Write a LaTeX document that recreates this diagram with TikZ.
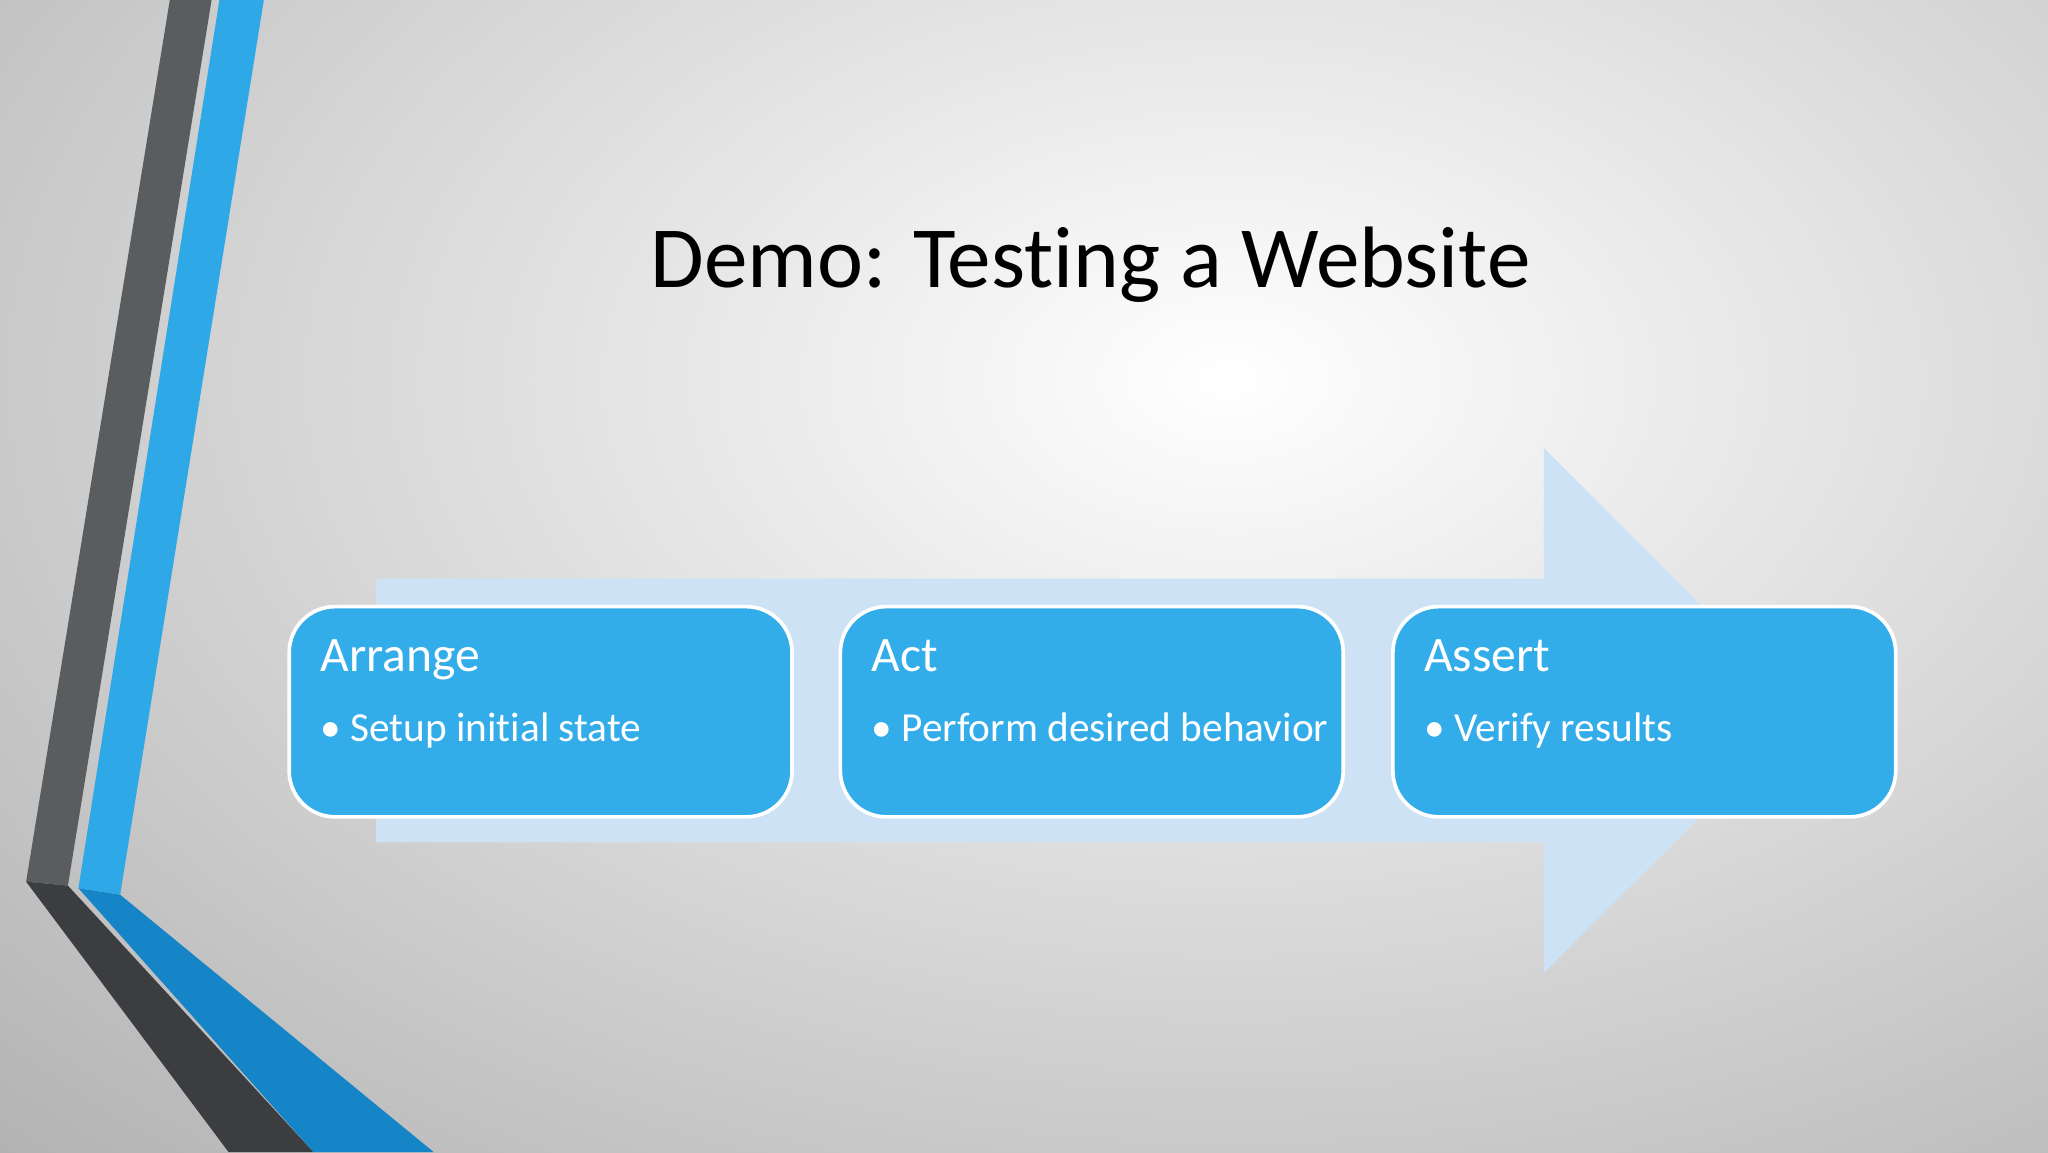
\documentclass[tikz,border=0pt]{standalone}
\usepackage{fontspec}
\setmainfont{Carlito}[Ligatures={NoCommon}]
\usetikzlibrary{positioning}
\definecolor{boxblue}{HTML}{33ACEA}
\definecolor{arrowblue}{HTML}{CDE3F5}
\definecolor{stripegrey}{HTML}{5A5D60}
\definecolor{stripedark}{HTML}{3C3D40}
\definecolor{stripeblue}{HTML}{2FA8E8}
\definecolor{stripedeep}{HTML}{1685C8}

\begin{document}
\begin{tikzpicture}[yscale=-1,
  step box/.style = {rectangle, rounded corners=10pt, draw=white, line width=0.8pt, fill=boxblue,
    minimum width=3.85cm, minimum height=1.61cm, anchor=north west},
  step head/.style = {anchor=base west, text=white, font=\fontsize{10.8}{12}\selectfont},
  step item/.style = {anchor=base west, text=white, font=\fontsize{9}{10}\selectfont}]

\useasboundingbox (0,0) rectangle (15.68,8.82);
\shade[inner color=white, outer color=black!30] (-4,-5.5) rectangle (22.8,11.3);

% left stripes
\fill[stripegrey] (1.30,0) -- (1.62,0) -- (0.52,6.78) -- (0.20,6.75) -- cycle;
\fill[stripedark] (0.20,6.75) -- (0.52,6.78) -- (2.40,8.82) -- (1.75,8.82) -- cycle;
\fill[stripeblue] (1.68,0) -- (2.02,0) -- (0.92,6.85) -- (0.60,6.80) -- cycle;
\fill[stripedeep] (0.60,6.80) -- (0.92,6.85) -- (3.32,8.82) -- (2.40,8.82) -- cycle;

\node[font=\fontsize{19}{22}\selectfont] (title) at (8.35,2.03) {Demo: Testing a Website};

% arrow behind the steps
\fill[arrowblue] (2.88,4.43) -- (11.82,4.43) -- (11.82,3.43) -- (13.83,5.44)
  -- (11.82,7.45) -- (11.82,6.45) -- (2.88,6.45) -- cycle;

\node[step box] (arrange) at (2.20,4.63) {};
\node[step box] (act) at (6.42,4.63) {};
\node[step box] (assert) at (10.65,4.63) {};

\node[step head] (arrangehead) at (2.33,5.14) {Arrange};
\node[step item] (arrangeitem) at (2.33,5.68) {• Setup initial state};
\node[step head] (acthead) at (6.55,5.14) {Act};
\node[step item] (actitem) at (6.55,5.68) {• Perform desired behavior};
\node[step head] (asserthead) at (10.78,5.14) {Assert};
\node[step item] (assertitem) at (10.78,5.68) {• Verify results};

\end{tikzpicture}
\end{document}
